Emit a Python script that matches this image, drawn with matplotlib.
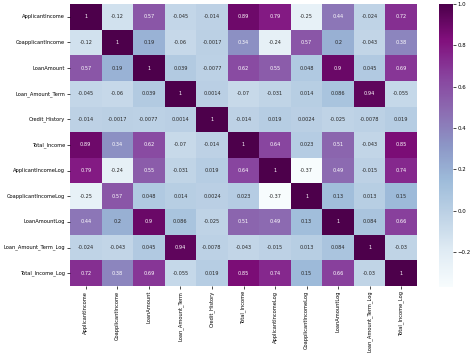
import numpy as np
import matplotlib
matplotlib.use("Agg")
import matplotlib.pyplot as plt
import seaborn as sns

LABELS = ["ApplicantIncome", "CoapplicantIncome", "LoanAmount",
          "Loan_Amount_Term", "Credit_History", "Total_Income",
          "ApplicantIncomeLog", "CoapplicantIncomeLog", "LoanAmountLog",
          "Loan_Amount_Term_Log", "Total_Income_Log"]

ROW_APPLICANT = [1, -0.12, 0.57, -0.045, -0.014, 0.89, 0.79, -0.25, 0.44, -0.024, 0.72]
ROW_COAPPLICANT = [-0.12, 1, 0.19, -0.06, -0.0017, 0.34, -0.24, 0.57, 0.2, -0.043, 0.38]
ROW_LOAN = [0.57, 0.19, 1, 0.039, -0.0077, 0.62, 0.55, 0.048, 0.9, 0.045, 0.69]
ROW_TERM = [-0.045, -0.06, 0.039, 1, 0.0014, -0.07, -0.031, 0.014, 0.086, 0.94, -0.055]
ROW_CREDIT = [-0.014, -0.0017, -0.0077, 0.0014, 1, -0.014, 0.019, 0.0024, -0.025, -0.0078, 0.019]
ROW_TOTAL = [0.89, 0.34, 0.62, -0.07, -0.014, 1, 0.64, 0.023, 0.51, -0.043, 0.85]
ROW_APPLICANT_LOG = [0.79, -0.24, 0.55, -0.031, 0.019, 0.64, 1, -0.37, 0.49, -0.015, 0.74]
ROW_COAPPLICANT_LOG = [-0.25, 0.57, 0.048, 0.014, 0.0024, 0.023, -0.37, 1, 0.13, 0.013, 0.15]
ROW_LOAN_LOG = [0.44, 0.2, 0.9, 0.086, -0.025, 0.51, 0.49, 0.13, 1, 0.084, 0.66]
ROW_TERM_LOG = [-0.024, -0.043, 0.045, 0.94, -0.0078, -0.043, -0.015, 0.013, 0.084, 1, -0.03]
ROW_TOTAL_LOG = [0.72, 0.38, 0.69, -0.055, 0.019, 0.85, 0.74, 0.15, 0.66, -0.03, 1]

corr = np.array([ROW_APPLICANT, ROW_COAPPLICANT, ROW_LOAN, ROW_TERM, ROW_CREDIT,
                 ROW_TOTAL, ROW_APPLICANT_LOG, ROW_COAPPLICANT_LOG, ROW_LOAN_LOG,
                 ROW_TERM_LOG, ROW_TOTAL_LOG])

fig = plt.figure(figsize=(4.74, 3.55), dpi=100)
ax = fig.add_axes([70 / 474, 69 / 355, 347 / 474, 282 / 355])
cax = fig.add_axes([439 / 474, 68 / 355, 14 / 474, 283 / 355])

sns.heatmap(corr, annot=True, cmap="BuPu", ax=ax, cbar_ax=cax,
            xticklabels=LABELS, yticklabels=LABELS,
            annot_kws={"fontsize": 3.6})
ax.tick_params(labelsize=3.7, length=2, width=0.5, pad=1.5)
ax.set_xticklabels(LABELS, rotation=90)
ax.set_yticklabels(LABELS, rotation=0)
cax.tick_params(labelsize=3.9, length=2, width=0.5, pad=1.5)

fig.savefig("out.png", dpi=100)
